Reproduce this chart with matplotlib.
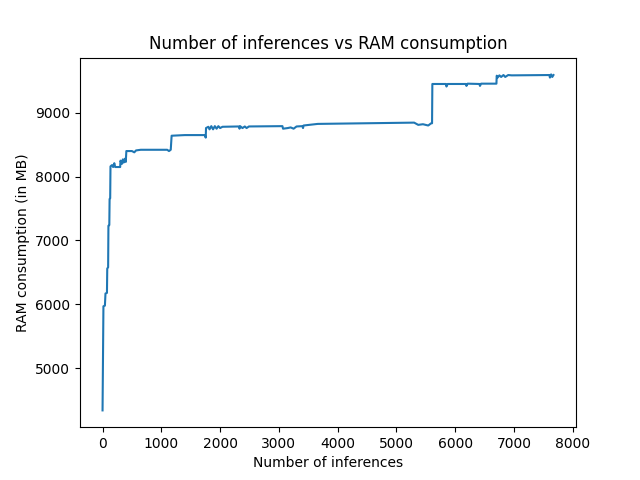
import matplotlib
matplotlib.use('Agg')
import matplotlib.pyplot as plt

# breakpoints (inference count, RAM in MB)
inferences = [0, 15, 40, 50, 75, 80, 95, 100, 115, 120, 130, 135, 160, 180, 200, 215,
              300, 305, 330, 345, 360, 380, 395, 405, 500, 540, 570, 650, 1100, 1130,
              1160, 1175, 1400, 1740, 1755, 1760, 1800, 1820, 1850, 1880, 1910, 1940,
              1970, 2000, 2040, 2320, 2330, 2340, 2380, 2420, 2450, 2490, 3060, 3070,
              3150, 3200, 3250, 3300, 3400, 3410, 3420, 3660, 5300, 5370, 5450, 5540,
              5590, 5605, 5610, 5840, 5850, 5870, 6180, 6190, 6210, 6410, 6420, 6440,
              6700, 6705, 6720, 6750, 6780, 6820, 6850, 6900, 6960, 7600, 7610, 7630,
              7650, 7670]
ram_mb = [4340, 5970, 5980, 6170, 6180, 6560, 6580, 7230, 7240, 7650, 7660, 8160, 8180,
          8150, 8210, 8150, 8150, 8250, 8200, 8270, 8220, 8280, 8230, 8400, 8400, 8380,
          8410, 8420, 8420, 8400, 8420, 8640, 8650, 8650, 8610, 8760, 8780, 8740, 8790,
          8740, 8790, 8750, 8790, 8760, 8780, 8785, 8750, 8790, 8760, 8785, 8760, 8785,
          8790, 8750, 8760, 8770, 8750, 8785, 8790, 8760, 8800, 8825, 8845, 8810, 8820,
          8800, 8835, 8835, 9450, 9450, 9410, 9450, 9450, 9420, 9455, 9450, 9420, 9455,
          9455, 9580, 9550, 9585, 9560, 9590, 9560, 9590, 9585, 9590, 9550, 9600, 9560,
          9590]

fig, ax = plt.subplots(figsize=(6.4, 4.8), dpi=100)
ax.plot(inferences, ram_mb)
ax.set_title('Number of inferences vs RAM consumption')
ax.set_xlabel('Number of inferences')
ax.set_ylabel('RAM consumption (in MB)')
fig.savefig('out.png')
